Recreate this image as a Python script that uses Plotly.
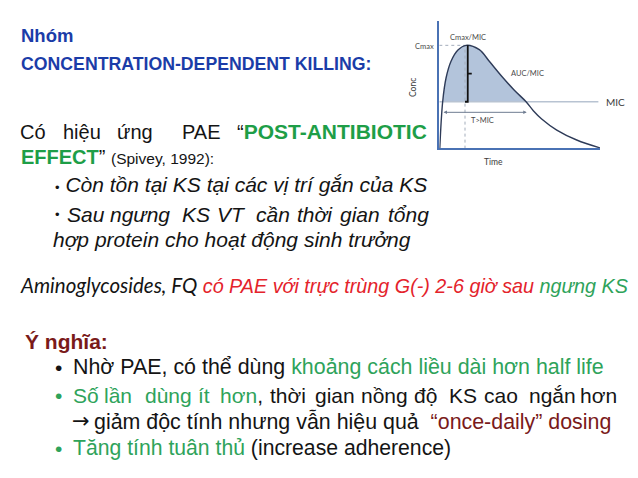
import plotly.graph_objects as go

# the page puts the plot 8px in from the top-left corner, so the figure is 8px smaller
OFF = 8
W, H = 638 - OFF, 478 - OFF

# concentration-time curve (time 0-10, conc 0-10)
time = [0.03, 0.21, 0.42, 0.73, 1.16, 1.66, 2.49, 3.11, 3.95, 4.67, 5.40, 5.85, 6.37, 7.31, 8.55, 10.0]
conc = [0, 3.65, 5.51, 6.82, 7.70, 8.07, 7.73, 6.82, 5.55, 4.55, 3.65, 2.95, 2.30, 1.43, 0.65, 0.03]
mic = 3.65
cmax = 8.07
t_peak = 1.60
t_brace = 1.77
t_above = [0.17, 5.44]   # ends of the T>MIC arrow
t_above_level = 2.82

# colours of the slide
blue = "#1b3ca8"
green = "#1e9e47"
green2 = "#2ea35a"
red = "#e4232b"
darkred = "#7a1a1a"
black = "#141414"
ARIAL = "Liberation Sans, Arial, sans-serif"


def px(x):
    return (x - OFF) / W


def py(y):
    return 1 - (y - OFF) / H


fig = go.Figure()

# shaded area above MIC
fig.add_trace(go.Scatter(x=time[1:11], y=conc[1:11], fill="toself", fillcolor="#b3c4db",
                         line=dict(width=0, shape="spline"), mode="lines", hoverinfo="skip"))
# MIC line
fig.add_trace(go.Scatter(x=[0, time[-1] - 0.1], y=[mic, mic], mode="lines",
                         line=dict(color="#b8c3d2", width=1.6), hoverinfo="skip"))
# dotted guides for Cmax
fig.add_trace(go.Scatter(x=[0, t_peak, t_peak], y=[cmax, cmax, 0], mode="lines",
                         line=dict(color="#a3adbb", width=1, dash="dot"), hoverinfo="skip"))
# concentration curve
fig.add_trace(go.Scatter(x=time, y=conc, mode="lines",
                         line=dict(color="#2e3b58", width=1.4, shape="spline"), hoverinfo="skip"))
# Cmax/MIC brace
mid = (cmax + mic) / 2
fig.add_trace(go.Scatter(x=[t_brace, t_brace, t_brace - 0.17, None, t_brace, t_brace + 0.25],
                         y=[cmax, mic, mic, None, mid, mid], mode="lines",
                         line=dict(color="#111111", width=1.8), hoverinfo="skip"))

fig.update_xaxes(range=[0, 10], domain=[px(439.3), px(600)], showline=True, linecolor="#4a72b4",
                 linewidth=2, showgrid=False, zeroline=False, showticklabels=False, ticks="")
fig.update_yaxes(range=[0, 10], domain=[py(148.3), py(20.7)], showline=True, linecolor="#4a72b4",
                 linewidth=2, showgrid=False, zeroline=False, showticklabels=False, ticks="")

ann = []


def txt(x, y, s, size, color=black, family=ARIAL, **kw):
    d = dict(x=px(x), y=py(y), xref="paper", yref="paper", text=s, showarrow=False,
             xanchor="left", yanchor="middle", font=dict(size=size, color=color, family=family))
    d.update(kw)
    ann.append(d)


def words(y, items, size, fmt="%s", color=black):
    # justified line: every word at its own place
    for w, x in items:
        txt(x - 2, y, fmt % w, size, color)


# T>MIC arrow
ann.append(dict(x=t_above[1], y=t_above_level, ax=t_above[0], ay=t_above_level, xref="x", yref="y",
                axref="x", ayref="y", text="", showarrow=True, arrowhead=2, arrowsize=0.7,
                arrowwidth=1, arrowcolor="#6f7c91", arrowside="end+start"))

# labels inside the small chart
small = "Lato, Open Sans, sans-serif"
txt(468, 37, "Cmax/MIC", 7.5, "#4a4a4a", small, xanchor="center")
txt(527, 74, "AUC/MIC", 7.5, "#4a4a4a", small, xanchor="center")
txt(482, 120, "T>MIC", 7.5, "#4a4a4a", small, xanchor="center")
txt(436, 46, "Cmax", 7.5, "#4a4a4a", small, xanchor="right")
txt(604, 102, "MIC", 10, "#3a3a3a", small)
txt(493, 162, "Time", 8.5, "#3a3a3a", small, xanchor="center")
txt(413, 88, "Conc", 8.5, "#3a3a3a", small, xanchor="center", textangle=-90)

# heading
txt(19, 36, "<b>Nhóm</b>", 18.5, blue)
txt(19, 63.5, "<b>CONCENTRATION-DEPENDENT KILLING:</b>", 17.7, blue)

# Có hiệu ứng PAE "POST-ANTIBIOTIC
words(132, [("Có", 20), ("hiệu", 63), ("ứng", 117), ("PAE", 182)], 20)
txt(235, 132, "“<b><span style='color:%s;font-size:21px'>POST-ANTIBIOTIC</span></b>" % green, 20)
txt(19, 157, "<b><span style='color:%s'>EFFECT</span></b>” <span style='font-size:15.5px'>(Spivey, 1992):</span>" % green, 20)

txt(53, 184, "<span style='font-size:13px'>•</span> <i>Còn tồn tại KS tại các vị trí gắn của KS</i>", 21)
txt(53, 214, "<span style='font-size:13px'>•</span>", 21)
words(214, [("Sau", 67), ("ngưng", 110), ("KS", 182), ("VT", 217), ("cần", 256),
            ("thời", 297), ("gian", 340), ("tổng", 388)], 21, "<i>%s</i>")
txt(51, 239, "<i>hợp protein cho hoạt động sinh trưởng</i>", 21)

# Aminoglycosides line
txt(18, 285, "<i><span style='font-family:Lato;font-size:20.5px'>Aminoglycosides, FQ</span> "
    "<span style='color:%s'>có PAE với trực trùng G(-) 2-6 giờ sau</span> "
    "<span style='color:%s'>ngưng KS</span></i>" % (red, green2), 19.75)

# Ý nghĩa
txt(23, 341, "<b>Ý nghĩa:</b>", 21, darkred)
txt(53, 367, "•", 21)
txt(71, 367, "Nhờ PAE, có thể dùng <span style='color:%s'>khoảng cách liều dài hơn half life</span>" % green2, 21.4)
txt(53, 395, "•", 21, green2)
words(395, [("Số", 73), ("lần", 104), ("dùng", 145), ("ít", 198)], 21, color=green2)
txt(218, 395, "<span style='color:%s'>hơn</span>," % green2, 21)
words(395, [("thời", 270), ("gian", 315), ("nồng", 361), ("độ", 414), ("KS", 449),
            ("cao", 484), ("ngắn", 529), ("hơn", 580)], 21)
txt(70, 421, "→", 21, family="DejaVu Sans")
txt(92, 421, "giảm độc tính nhưng vẫn hiệu quả  <span style='color:%s'>“once-daily” dosing</span>" % darkred, 21.4)
txt(53, 448, "•", 21, green2)
txt(71, 448, "<span style='color:%s'>Tăng tính tuân thủ</span> (increase adherence)" % green2, 21.2)

fig.update_layout(width=W, height=H, margin=dict(l=0, r=0, t=0, b=0), showlegend=False,
                  paper_bgcolor="white", plot_bgcolor="white", annotations=ann)

fig.write_html("out.html")
